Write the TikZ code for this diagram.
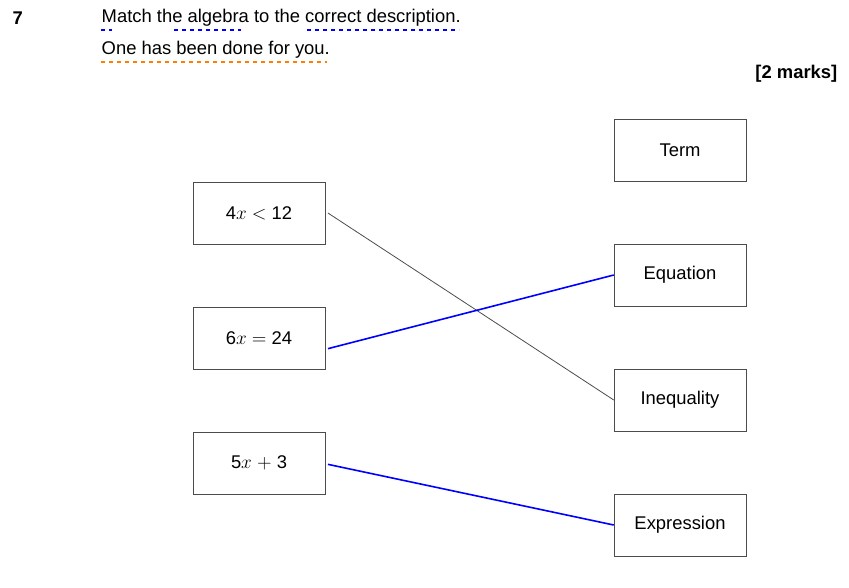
\documentclass[tikz,border=0pt]{standalone}
\usepackage{fontspec}
\setmainfont{Liberation Sans}
\usetikzlibrary{positioning}
\tikzset{
  algbox/.style={rectangle, draw=black!70, minimum width=132*0.75pt, minimum height=62*0.75pt, inner sep=0pt},
  match/.style={blue, line width=1.2pt},
  guess/.style={black!70, line width=0.6pt}
}
\begin{document}
\begin{tikzpicture}[x=0.75pt, y=-0.75pt, font=\fontsize{13.8}{16}\selectfont]
    \useasboundingbox (0,0) rectangle (849,587);
    % Question header
    \node[anchor=west, font=\fontsize{13.8}{16}\selectfont\bfseries] (qnum) at (8,18) {7};
    \node[anchor=west] (line1) at (97,18) {Match the algebra to the correct description.};
    \node[anchor=west] (line2) at (97,50) {One has been done for you.};
    \node[anchor=east, font=\fontsize{13.8}{16}\selectfont\bfseries] (marks) at (842,74) {[2 marks]};
    \draw[blue, dashed, line width=0.9pt] (101,30) -- (112,30);
    \draw[blue, dashed, line width=0.9pt] (174,30) -- (241,30);
    \draw[blue, dashed, line width=0.9pt] (307,30) -- (459,30);
    \draw[orange, dashed, line width=0.9pt] (101,62) -- (327,62);

    % Algebra boxes
    \node[algbox] (ineq) at (259,213) {4$x$ $<$ 12};
    \node[algbox] (eqn) at (259,338) {6$x$ $=$ 24};
    \node[algbox] (expr) at (259,463) {5$x$ $+$ 3};

    % Description boxes
    \node[algbox] (term) at (680,150) {Term};
    \node[algbox] (equation) at (680,275) {Equation};
    \node[algbox] (inequality) at (680,400) {Inequality};
    \node[algbox] (expression) at (680,525) {Expression};

    % Connections
    \draw[guess] ([xshift=2pt]ineq.east) -- (inequality.west);
    \draw[match] ([xshift=2pt,yshift=-8pt]eqn.east) -- (equation.west);
    \draw[match] ([xshift=2pt,yshift=-1pt]expr.east) -- (expression.west);
\end{tikzpicture}
\end{document}
